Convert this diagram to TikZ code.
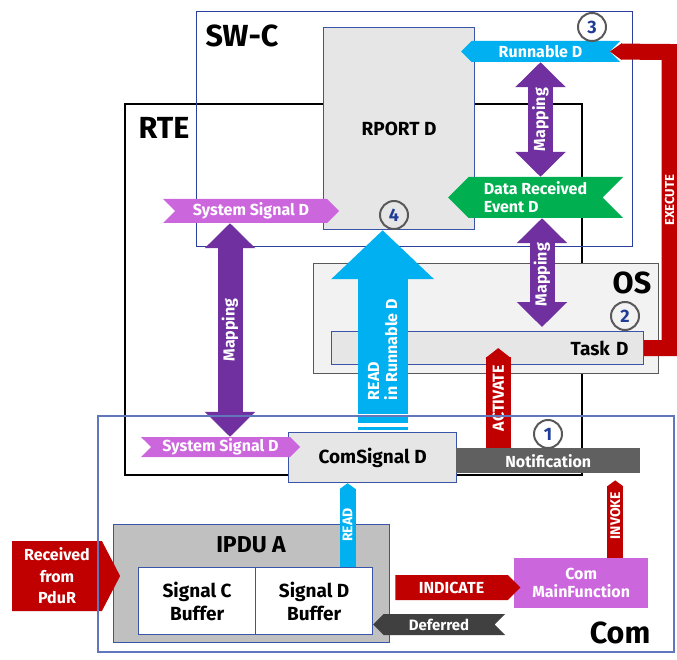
\documentclass[tikz,border=0pt]{standalone}
\usepackage{fontspec}
\setmainfont{Fira Sans}
\usetikzlibrary{positioning,shapes.symbols,arrows.meta}
\definecolor{runcyan}{HTML}{00B0F0}
\definecolor{mapviolet}{HTML}{7030A0}
\definecolor{sigorchid}{HTML}{CC66DD}
\definecolor{evgreen}{HTML}{00B050}
\definecolor{actred}{HTML}{C00000}
\definecolor{partblue}{HTML}{3A55A8}
\definecolor{swcblue}{HTML}{2B3FA0}
\definecolor{comblue}{HTML}{6077BE}
\definecolor{numblue}{HTML}{1F3C96}
\definecolor{numgray}{HTML}{595959}
\definecolor{notegray}{HTML}{606060}
\definecolor{defgray}{HTML}{404040}
\definecolor{partgray}{HTML}{E6E6E6}
\definecolor{osgray}{HTML}{F2F2F2}
\definecolor{ipdugray}{HTML}{C0C0C0}

\begin{document}
\begin{tikzpicture}[
    x=1pt, y=-1pt,
    every node/.style={font=\fontsize{16}{18}\selectfont\bfseries, inner sep=0pt},
    layer/.style={draw=#1, line width=1.5pt, anchor=north west},
    layertitle/.style={font=\fontsize{30.5}{31}\selectfont\bfseries},
    part/.style={fill=#1, draw=partblue, line width=1.2pt, anchor=north west, align=center, font=\fontsize{19}{23}\selectfont\bfseries},
    banner/.style={signal, fill=#1, text=white, signal pointer angle=90, align=center},
    mapping/.style={draw=mapviolet, line width=25pt, {Triangle[width=49pt,length=25pt]}-{Triangle[width=49pt,length=25pt]}},
    thincall/.style={draw=#1, line width=16pt, -{Triangle[width=16pt,length=6pt]}},
    shaftlabel/.style={rotate=90, text=white},
    stepnum/.style={circle, draw=numgray, line width=2pt, minimum size=28pt, text=numblue, font=\fontsize{18}{18}\selectfont\bfseries},
]
\useasboundingbox (0,0) rectangle (677,660);

% Layers
\node[layer=black, line width=2pt, minimum width=457pt, minimum height=371pt] (rte) at (124,103) {};
\node[layer=swcblue, line width=1pt, minimum width=436pt, minimum height=235pt] (swc) at (196,11) {};
\node[layer=numgray, fill=osgray, line width=1.2pt, minimum width=345pt, minimum height=110pt] (os) at (313,263) {};

% Parts
\node[part=partgray, minimum width=151pt, minimum height=202pt] (rport) at (323,27) {RPORT D};
\node[part=partgray, minimum height=33pt, text width=282pt, inner xsep=15pt, align=right] (taskD) at (331,331) {Task D};
\node[part=partgray, minimum width=168pt, minimum height=50pt] (comsig) at (288,432) {ComSignal D};
\node[fill=notegray, text=white, anchor=north west, minimum width=184pt, minimum height=25pt] (notif) at (456,448) {Notification};
\node[part=ipdugray, minimum width=276pt, minimum height=118pt] (ipdu) at (113,524) {};
\node[font=\fontsize{23}{24}\selectfont\bfseries] (ipduTitle) at (251,545) {IPDU A};
\node[part=white, minimum width=117pt, minimum height=67pt] (bufC) at (138,567) {Signal C\\Buffer};
\node[part=white, minimum width=117pt, minimum height=67pt] (bufD) at (255,567) {Signal D\\Buffer};
\node[fill=sigorchid, text=white, anchor=north west, align=center, minimum width=134pt, minimum height=50pt] (mainfn) at (514,558) {Com\\MainFunction};

% Banners
\node[banner=runcyan, signal to=west, signal from=east, minimum width=159pt, minimum height=21pt] (runD) at (540.5,51.5) {Runnable D};
\node[banner=evgreen, signal to=west, signal from=east, align=left, minimum width=175pt, minimum height=41pt] (dre) at (535.5,197.5) {Data Received\\Event D};
\node[banner=sigorchid, signal to=east, signal from=west, minimum width=176pt, minimum height=24pt] (sysUp) at (251,211) {System Signal D};
\node[banner=sigorchid, signal to=east, signal from=west, minimum width=159pt, minimum height=20pt] (sysLo) at (220.5,447) {System Signal D};
\node[banner=defgray, signal to=west, signal from=east, font=\fontsize{15}{17}\selectfont\bfseries, minimum width=132pt, minimum height=21pt] (defer) at (439,624.5) {Deferred};
\node[banner=actred, signal to=east, minimum width=125pt, minimum height=25pt] (indic) at (451.5,587.5) {INDICATE};
\node[banner=actred, signal to=east, signal pointer angle=125, font=\fontsize{16}{21.5}\selectfont\bfseries, minimum width=108pt, minimum height=70pt] (pdur) at (57,576) {Received\\from\\PduR};

% Mappings
\draw[mapping] (runD.south) -- (runD.south |- dre.north)
    node[midway, shaftlabel] {Mapping};
\draw[mapping, shorten >=4pt] ([xshift=6.5pt]dre.south) -- ([xshift=6.5pt]dre.south |- taskD.north)
    node[midway, shaftlabel] {Mapping};
\draw[mapping] ([xshift=-21pt]sysUp.south) -- ([xshift=-21pt]sysUp.south |- sysLo.north)
    node[midway, shaftlabel] {Mapping};

% Calls
\draw[draw=runcyan, line width=50pt, -{Triangle[width=100pt,length=49pt]}]
    ([xshift=10pt, yshift=18pt]comsig.north) -- ([xshift=10pt]comsig.north |- rport.south)
    node[pos=0.35, shaftlabel, align=left] {READ\\in Runnable D};
\draw[runcyan, line width=6pt] ([xshift=-15pt, yshift=12pt]comsig.north) -- ++(50,0);
\draw[runcyan, line width=3.5pt] ([xshift=-15pt, yshift=3.5pt]comsig.north) -- ++(50,0);
\draw[draw=actred, line width=25pt, -{Triangle[width=25pt,length=10pt]}]
    ([xshift=-50pt]notif.north) -- ([xshift=-50pt]notif.north |- taskD.center)
    node[midway, shaftlabel] {ACTIVATE};
\draw[thincall=actred, shorten >=7pt] ([xshift=34pt]mainfn.north) -- ([xshift=34pt]mainfn.north |- notif.south)
    node[midway, shaftlabel, font=\fontsize{14}{16}\selectfont\bfseries] {INVOKE};
\draw[thincall=runcyan] ([xshift=33.5pt]bufD.north) -- ([xshift=33.5pt]bufD.north |- comsig.south)
    node[midway, shaftlabel, font=\fontsize{14}{16}\selectfont\bfseries] {READ};
\coordinate (execTurn) at (669.5,52);
\draw[draw=actred, line width=16pt, line join=miter, -{Triangle[width=16pt,length=12pt]}]
    (taskD.east) -| node[pos=0.75, shaftlabel, font=\fontsize{13}{15}\selectfont\bfseries] {EXECUTE} (execTurn) -- (runD.east);

\node[layer=comblue, line width=2pt, minimum width=576pt, minimum height=236pt] (com) at (97,415) {};

% Steps
\node[stepnum] (step1) at (548,434) {1};
\node[stepnum] (step2) at (625,316) {2};
\node[stepnum] (step3) at (592,27) {3};
\node[stepnum] (step4) at (394,215) {4};

% Layer titles
\node[layertitle] (swcTitle) at (242,36) {SW-C};
\node[layertitle] (rteTitle) at (164,128) {RTE};
\node[layertitle] (osTitle) at (632,283) {OS};
\node[layertitle] (comTitle) at (620,633) {Com};

\end{tikzpicture}
\end{document}
